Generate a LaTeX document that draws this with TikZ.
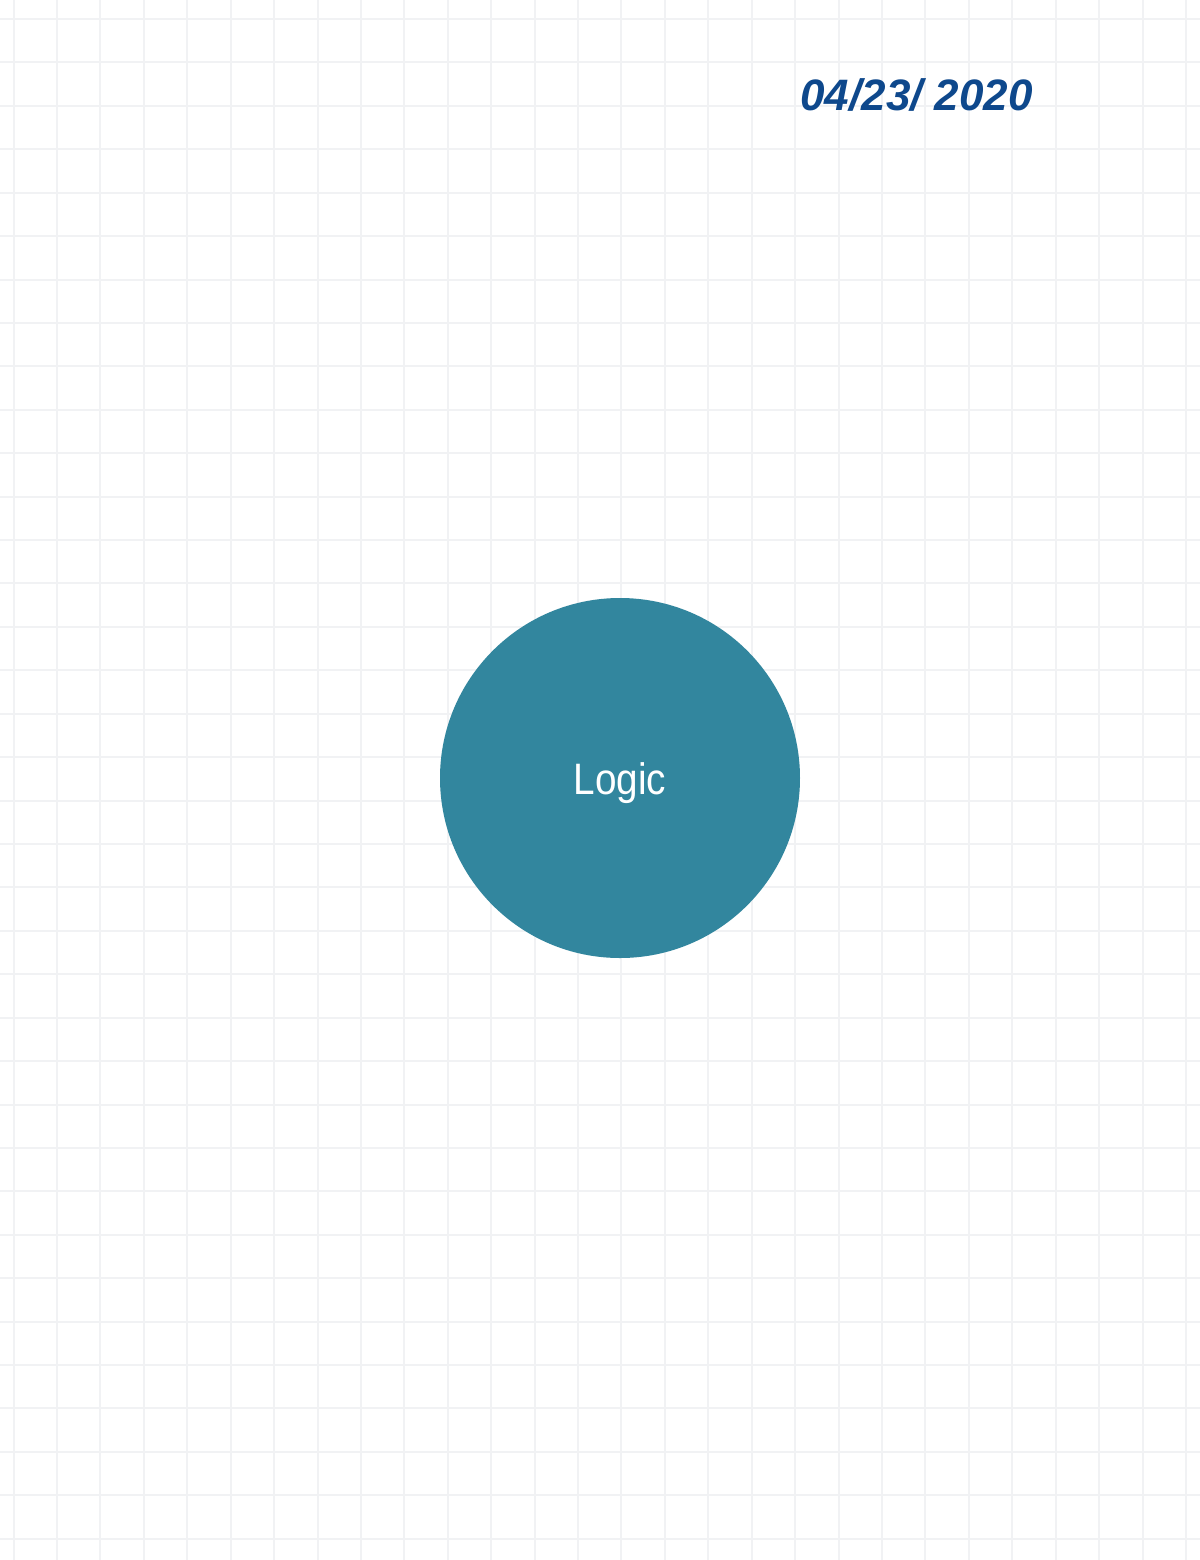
\documentclass[tikz,border=0pt]{standalone}
\usepackage{fontspec}
\setmainfont{Liberation Sans}
\usepackage{xcolor}
\definecolor{gridgray}{RGB}{241,242,244}
\definecolor{logicteal}{RGB}{50,134,158}
\definecolor{inkblue}{RGB}{14,72,140}

\begin{document}
\begin{tikzpicture}[x=0.5pt, y=-0.5pt]
  \useasboundingbox (0,0) rectangle (1200,1560);
  \fill[white] (0,0) rectangle (1200,1560);
  \foreach \k in {0,...,27}
    \draw[gridgray, line width=1pt] ({13.6+43.42*\k},0) -- ({13.6+43.42*\k},1560);
  \foreach \k in {0,...,35}
    \draw[gridgray, line width=1pt] (0,{19+43.42*\k}) -- (1200,{19+43.42*\k});
  \node[font=\fontsize{22}{26}\selectfont\itshape\bfseries, text=inkblue, anchor=west, inner sep=0pt] (date) at (800,95) {04/23/ 2020};
  \node[circle, fill=logicteal, minimum size=180pt, inner sep=0pt, text=white] (logic) at (620,778) {};
  \node[font=\fontsize{22}{26}\selectfont, text=white, xscale=0.88, inner sep=0pt] (logiclabel) at (620,783) {Logic};
\end{tikzpicture}
\end{document}
